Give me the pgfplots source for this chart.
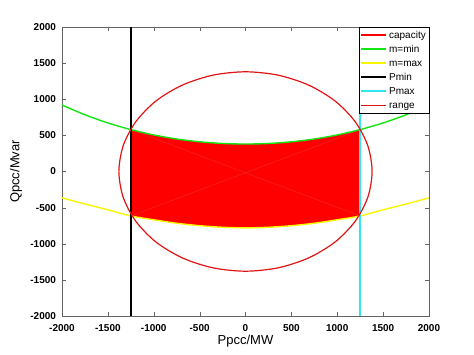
\documentclass[border=0pt]{standalone}
\usepackage{pgfplots}
\pgfplotsset{compat=1.18}
\usepackage{fontspec}
\setmainfont{Liberation Sans}
\definecolor{axgray}{RGB}{100,100,100}
\definecolor{mgreen}{RGB}{20,230,20}
\definecolor{myellow}{RGB}{250,245,0}
\definecolor{mcyan}{RGB}{50,230,240}
\definecolor{cred}{RGB}{225,20,20}
\definecolor{hred}{RGB}{235,45,45}
\begin{document}
\begin{tikzpicture}
\begin{axis}[
 scale only axis, width=367pt, height=289pt,
 xmin=-2000, xmax=2000, ymin=-2000, ymax=2000,
 xtick={-2000,-1500,...,2000}, ytick={-2000,-1500,...,2000},
 tick align=inside, major tick length=4pt,
 axis line style={draw=axgray},
 tick style={axgray},
 tick label style={font=\fontsize{10}{12}\selectfont\bfseries},
 /pgf/number format/assume math mode=true,
 /pgf/number format/set thousands separator={},
 scaled ticks=false,
 x tick label style={yshift=-5pt},
 y tick label style={xshift=-2.5pt},
 xlabel={Ppcc/MW}, ylabel={Qpcc/Mvar},
 every axis x label/.style={at={(axis description cs:0.5,-0.1)}, anchor=base, font=\fontsize{13}{15}\selectfont},
 every axis y label/.style={at={(axis description cs:-0.116,0.5)}, anchor=base, rotate=90, font=\fontsize{13}{15}\selectfont},
 legend style={at={(rel axis cs:1,1)}, anchor=north east, font=\fontsize{10}{12}\selectfont, draw=black, inner sep=1pt, row sep=0pt, cells={anchor=west}, nodes={inner sep=2pt, text height=8pt, text depth=2pt}},
 legend image code/.code={\draw[#1] (0pt,0pt) -- (25pt,0pt);},
]
\addplot[fill=red, draw=none, legend image code/.code={\draw[red,line width=2pt] (0pt,0pt)--(25pt,0pt);}] coordinates {(-1250,580) (-1000,506) (-750,450) (-500,411) (-250,388) (0,380) (250,388) (500,411) (750,450) (1000,506) (1250,580) (1250,-615) (1000,-668) (750,-716) (500,-750) (250,-772) (0,-780) (-250,-772) (-500,-750) (-750,-716) (-1000,-668) (-1250,-615)} -- cycle;
\addlegendentry{capacity}
\addplot[hred, line width=0.4pt, forget plot] coordinates {(-1250,580) (1250,-615)};
\addplot[hred, line width=0.4pt, forget plot] coordinates {(-1250,-615) (1250,580)};
\addplot[mgreen, line width=1.4pt, smooth] coordinates {(-2000,920) (-1750,785) (-1500,672) (-1250,580) (-1000,506) (-750,450) (-500,411) (-250,388) (0,380) (250,388) (500,411) (750,450) (1000,506) (1250,580) (1500,672) (1750,785) (2000,920)};
\addlegendentry{m=min}
\addplot[myellow, line width=1.4pt, smooth] coordinates {(-2000,-365) (-1750,-450) (-1500,-530) (-1250,-615) (-1000,-668) (-750,-716) (-500,-750) (-250,-772) (0,-780) (250,-772) (500,-750) (750,-716) (1000,-668) (1250,-615) (1500,-530) (1750,-450) (2000,-365)};
\addlegendentry{m=max}
\addplot[black, line width=1.6pt] coordinates {(-1250,-2000) (-1250,2000)};
\addlegendentry{Pmin}
\addplot[mcyan, line width=1.6pt] coordinates {(1250,-2000) (1250,2000)};
\addlegendentry{Pmax}
\addplot[cred, line width=1.2pt, smooth cycle] coordinates {(1380,0) (1333,357) (1195,690) (976,976) (690,1195) (357,1333) (0,1380) (-357,1333) (-690,1195) (-976,976) (-1195,690) (-1333,357) (-1380,0) (-1333,-357) (-1195,-690) (-976,-976) (-690,-1195) (-357,-1333) (0,-1380) (357,-1333) (690,-1195) (976,-976) (1195,-690) (1333,-357)};
\addlegendentry{range}
\end{axis}
\path ([shift={(-62pt,-39pt)}]current axis.south west) rectangle ([shift={(45pt,27pt)}]current axis.north east);
\end{tikzpicture}
\end{document}
